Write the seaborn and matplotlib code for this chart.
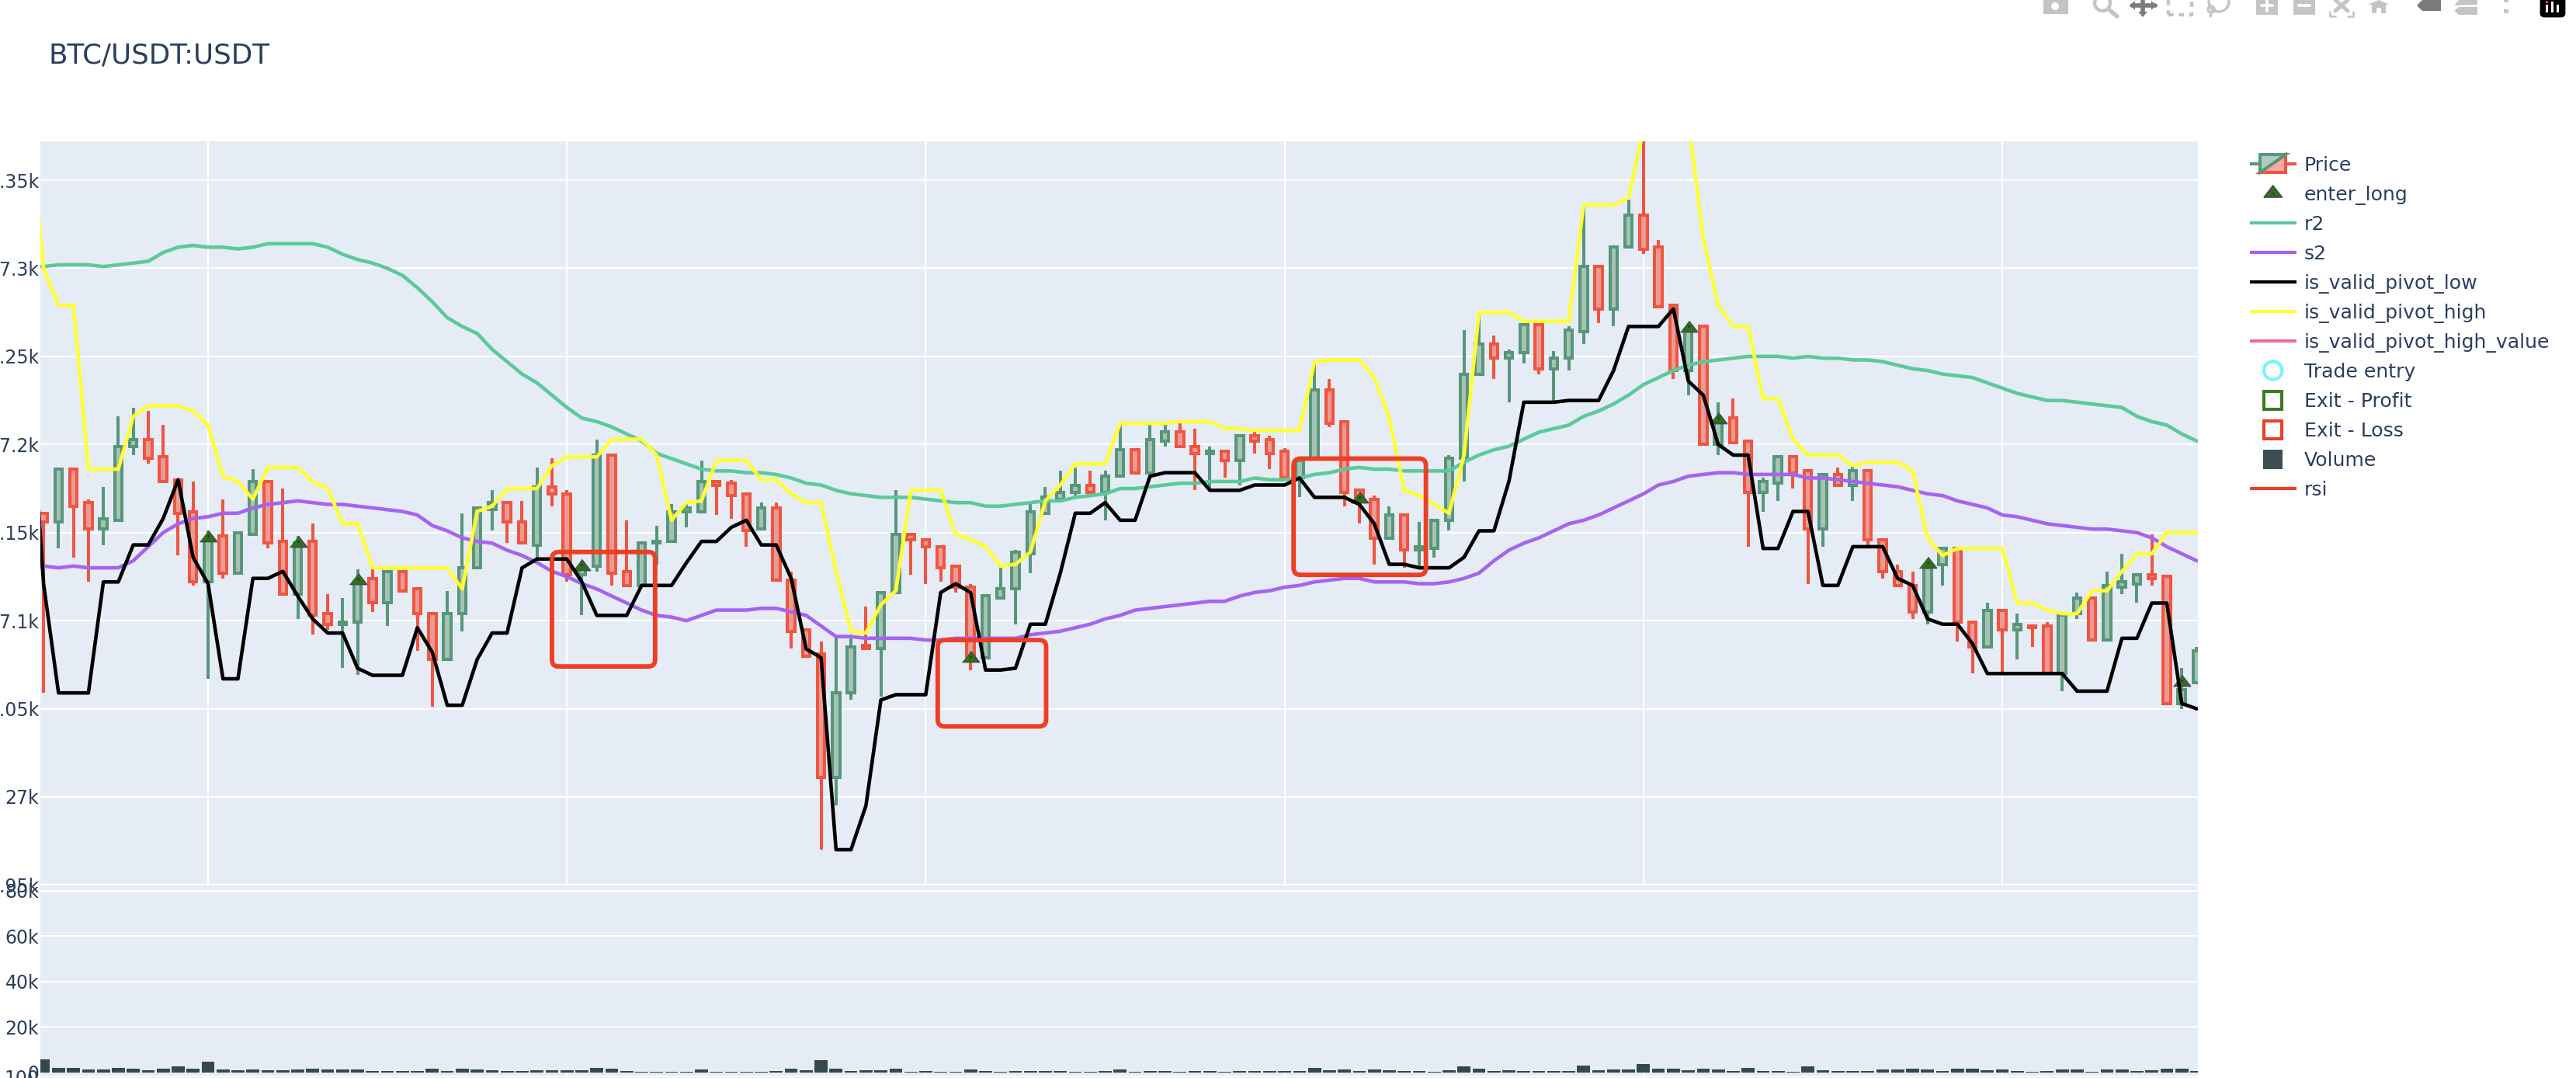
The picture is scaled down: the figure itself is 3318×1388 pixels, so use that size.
import matplotlib
matplotlib.use("Agg")
import matplotlib.pyplot as plt
import numpy as np
import seaborn as sns
from matplotlib.patches import Circle, FancyBboxPatch, Polygon, Rectangle

W, H = 3318, 1388

title = "BTC/USDT:USDT"

# candles, one per 15 minutes
open_ = [27161,27156,27186,27167,27152,27157,27199,27203,27193,27180,
         27162,27122,27148,27127,27149,27179,27145,27115,27145,27104,
         27098,27099,27124,27110,27128,27118,27104,27078,27104,27130,
         27163,27167,27156,27143,27176,27172,27126,27131,27194,27128,
         27120,27144,27145,27162,27162,27179,27178,27172,27152,27164,
         27123,27095,27081,27011,27059,27086,27084,27116,27149,27146,
         27142,27131,27119,27079,27113,27118,27138,27161,27169,27173,
         27177,27173,27182,27197,27184,27202,27207,27199,27195,27196,
         27191,27205,27203,27196,27181,27192,27231,27213,27174,27169,
         27147,27160,27140,27141,27157,27192,27240,27257,27249,27252,
         27268,27243,27249,27264,27301,27277,27312,27330,27312,27279,
         27242,27267,27200,27215,27202,27173,27178,27193,27185,27152,
         27183,27177,27185,27146,27128,27120,27105,27132,27141,27099,
         27085,27106,27095,27097,27097,27070,27104,27113,27089,27119,
         27121,27126,27125,27053,27065]
high = [27161,27186,27186,27169,27176,27216,27221,27219,27211,27180,
        27179,27151,27169,27150,27186,27179,27175,27148,27155,27115,
        27113,27129,27129,27128,27128,27118,27104,27117,27161,27165,
        27174,27167,27168,27187,27192,27174,27134,27203,27194,27157,
        27144,27154,27166,27167,27191,27179,27180,27172,27167,27167,
        27128,27095,27088,27091,27092,27108,27117,27174,27149,27146,
        27142,27131,27121,27114,27132,27140,27166,27176,27185,27187,
        27185,27185,27212,27197,27212,27212,27212,27209,27199,27196,
        27206,27207,27205,27198,27191,27247,27237,27214,27174,27171,
        27165,27160,27156,27158,27194,27265,27274,27262,27254,27269,
        27269,27253,27267,27336,27301,27312,27339,27384,27316,27279,
        27269,27267,27224,27226,27203,27181,27193,27194,27185,27184,
        27187,27189,27185,27147,27132,27128,27134,27142,27142,27099,
        27110,27106,27104,27098,27099,27103,27116,27113,27128,27138,
        27126,27149,27125,27073,27085]
low = [27059,27141,27136,27122,27143,27157,27194,27189,27179,27137,
       27120,27067,27124,27127,27149,27141,27115,27101,27092,27095,
       27073,27069,27105,27097,27117,27083,27051,27078,27094,27130,
       27151,27144,27144,27135,27165,27122,27103,27128,27120,27120,
       27120,27132,27145,27153,27162,27160,27158,27142,27152,27123,
       27084,27079,26970,26995,27055,27084,27057,27116,27126,27121,
       27122,27116,27072,27079,27113,27098,27127,27161,27167,27171,
       27173,27157,27182,27184,27184,27199,27199,27174,27174,27181,
       27177,27195,27186,27181,27170,27192,27210,27165,27155,27132,
       27147,27130,27129,27136,27151,27179,27239,27237,27224,27246,
       27240,27225,27242,27257,27269,27267,27312,27308,27278,27237,
       27228,27200,27194,27200,27142,27162,27168,27175,27121,27142,
       27177,27168,27142,27124,27120,27101,27098,27120,27088,27070,
       27085,27070,27078,27085,27070,27060,27101,27089,27089,27115,
       27110,27120,27053,27050,27065]
close = [27156,27186,27165,27152,27158,27199,27203,27192,27179,27161,
         27122,27146,27127,27150,27179,27144,27115,27144,27103,27098,
         27099,27122,27110,27128,27117,27104,27078,27104,27130,27164,
         27167,27156,27144,27176,27172,27126,27129,27194,27127,27120,
         27144,27145,27162,27164,27179,27177,27171,27151,27164,27123,
         27094,27080,27011,27059,27085,27084,27116,27149,27146,27142,
         27130,27119,27080,27114,27118,27139,27162,27170,27173,27177,
         27173,27182,27197,27184,27203,27207,27199,27195,27196,27191,
         27205,27202,27195,27181,27191,27231,27212,27173,27168,27147,
         27160,27140,27142,27157,27192,27240,27257,27249,27252,27268,
         27243,27249,27265,27301,27277,27312,27330,27311,27278,27242,
         27265,27200,27213,27201,27173,27179,27193,27184,27152,27183,
         27177,27185,27146,27128,27120,27105,27130,27141,27099,27085,
         27106,27095,27098,27096,27070,27103,27113,27089,27120,27122,
         27126,27124,27053,27061,27083]

# indicator lines start one candle left of the visible range
r2 = [27301,27301,27302,27302,27302,27301,27302,27303,27304,27309,27312,
      27313,27312,27312,27311,27312,27314,27314,27314,27314,27312,
      27308,27305,27303,27300,27296,27289,27281,27272,27267,27263,
      27254,27247,27240,27235,27228,27221,27215,27213,27210,27206,
      27202,27195,27192,27189,27186,27185,27185,27184,27184,27183,
      27181,27178,27177,27174,27172,27171,27170,27170,27170,27169,
      27168,27167,27167,27165,27165,27166,27167,27168,27168,27170,
      27171,27172,27175,27175,27176,27177,27178,27178,27179,27179,
      27179,27181,27180,27180,27181,27183,27184,27186,27187,27186,
      27186,27185,27185,27185,27185,27190,27194,27197,27199,27203,
      27207,27209,27211,27216,27219,27223,27228,27234,27238,27242,
      27245,27247,27248,27249,27250,27250,27250,27249,27250,27249,
      27249,27248,27248,27247,27245,27243,27242,27240,27239,27238,
      27235,27232,27229,27227,27225,27225,27224,27223,27222,27221,
      27216,27213,27211,27206,27202]
s2 = [27131,27131,27130,27131,27130,27130,27130,27134,27142,27150,27155,
      27158,27159,27161,27161,27164,27166,27167,27168,27167,27166,
      27166,27165,27164,27163,27162,27160,27154,27151,27147,27145,
      27144,27140,27137,27133,27128,27125,27121,27118,27114,27110,
      27106,27103,27102,27100,27103,27106,27106,27106,27107,27107,
      27105,27103,27097,27091,27091,27090,27090,27090,27090,27089,
      27089,27090,27090,27090,27090,27090,27092,27093,27094,27096,
      27098,27101,27103,27106,27107,27108,27109,27110,27111,27111,
      27114,27116,27117,27119,27120,27122,27123,27124,27124,27122,
      27122,27122,27121,27121,27122,27124,27127,27134,27140,27144,
      27147,27151,27155,27157,27160,27164,27168,27172,27177,27179,
      27182,27183,27184,27184,27183,27183,27183,27183,27181,27181,
      27180,27179,27178,27177,27176,27174,27172,27171,27168,27166,
      27164,27160,27159,27157,27155,27154,27153,27152,27152,27151,
      27150,27147,27142,27138,27134]
pivot_low = [27250,27121,27059,27059,27059,27122,27122,27143,27143,27158,27180,
             27136,27121,27067,27067,27124,27124,27128,27114,27101,27093,
             27093,27073,27069,27069,27069,27096,27082,27052,27052,27078,
             27093,27093,27130,27135,27135,27135,27122,27103,27103,27103,
             27120,27120,27120,27133,27145,27145,27153,27157,27143,27143,
             27124,27084,27079,26970,26970,26995,27055,27058,27058,27058,
             27116,27121,27116,27072,27072,27073,27098,27098,27127,27161,
             27161,27167,27157,27157,27182,27184,27184,27184,27174,27174,
             27174,27177,27177,27177,27181,27170,27170,27170,27166,27155,
             27132,27132,27130,27130,27130,27136,27151,27151,27179,27224,
             27224,27224,27225,27225,27225,27242,27267,27267,27267,27277,
             27236,27228,27200,27194,27194,27141,27141,27162,27162,27120,
             27120,27142,27142,27142,27124,27120,27101,27098,27098,27087,
             27070,27070,27070,27070,27070,27070,27060,27060,27060,27090,
             27090,27110,27110,27053,27050]
pivot_high = [27391,27300,27279,27279,27186,27186,27186,27216,27222,27222,27222,
              27219,27211,27182,27179,27169,27187,27187,27187,27179,27175,
              27155,27155,27130,27130,27130,27130,27130,27130,27118,27162,
              27165,27175,27175,27175,27188,27193,27193,27193,27203,27203,
              27203,27194,27157,27167,27168,27191,27191,27191,27180,27180,
              27172,27167,27167,27128,27094,27093,27109,27117,27174,27174,
              27174,27149,27146,27142,27131,27132,27139,27168,27177,27189,
              27189,27189,27212,27212,27212,27212,27213,27213,27213,27209,
              27209,27208,27208,27208,27208,27247,27248,27248,27248,27238,
              27215,27174,27171,27166,27161,27194,27275,27275,27275,27270,
              27270,27270,27270,27336,27336,27336,27340,27379,27384,27384,
              27384,27317,27279,27267,27267,27226,27226,27203,27194,27194,
              27194,27188,27190,27190,27190,27185,27147,27137,27141,27141,
              27141,27141,27110,27110,27106,27104,27104,27117,27117,27128,
              27138,27138,27150,27150,27150]

# enter_long markers
enter_idx = [11, 17, 21, 36, 62, 88, 110, 112, 126, 143]
enter_val = [27148, 27145, 27124, 27132, 27080, 27170, 27267, 27215, 27133, 27066]

# Exit - Loss boxes: first candle, last candle, upper price, lower price
box_x0 = [34.0, 59.8, 83.6]
box_x1 = [40.9, 67.05, 92.45]
box_top = [27139, 27089, 27192]
box_bot = [27074, 27040, 27126]

volume = [5600,2050,1820,1030,1030,1820,1370,800,1710,2400,1480,4670,1250,800,1140,
          910,910,1030,1710,1140,1140,1140,680,680,570,680,1480,680,1480,1250,
          800,460,460,800,800,800,910,2050,1710,680,340,340,340,340,1030,
          340,340,340,340,460,1480,910,5360,1710,680,800,910,1370,340,680,
          340,340,1140,680,340,570,680,680,680,340,340,460,1250,340,680,
          460,340,680,460,340,570,460,460,460,570,1940,800,1030,680,1030,
          910,680,680,340,800,2620,1480,680,910,680,680,680,460,2850,800,
          1030,1250,3760,1480,1370,800,1600,1030,680,2050,680,680,340,2400,800,
          570,680,680,1250,1030,1370,1030,460,1370,1600,910,1140,680,340,680,
          1030,1030,340,1250,1250,460,910,1370,1370,680]

price_ticks = [26950, 27000, 27050, 27100, 27150, 27200, 27250, 27300, 27350]
volume_ticks = [0, 20000, 40000, 60000, 80000]
time_grid = [11, 35, 59, 83, 107, 131]

legend_labels = ["Price", "enter_long", "r2", "s2", "is_valid_pivot_low",
                 "is_valid_pivot_high", "is_valid_pivot_high_value", "Trade entry",
                 "Exit - Profit", "Exit - Loss", "Volume", "rsi"]

GREEN_EDGE, GREEN_FILL = "#58967a", "#a5c3b5"
RED_EDGE, RED_FILL = "#f0553f", "#eb9b96"
BG = "#E5ECF6"
TXT = "#2a3f5f"
C_R2, C_S2, C_PINK, C_YEL = "#5cc99b", "#a564f0", "#ec6f92", "#ffff33"
C_BOX = "#ee3e24"
TICK_SIZE = 8.5

sns.set_theme(style="darkgrid", rc={
    "axes.facecolor": BG, "grid.color": "white", "grid.linewidth": 0.76,
    "font.family": "DejaVu Sans", "axes.linewidth": 0, "text.color": TXT,
    "xtick.color": TXT, "ytick.color": TXT})

fig = plt.figure(figsize=(W / 200, H / 200), dpi=200, facecolor="white")


def panel(top, bottom):
    return fig.add_axes([52 / W, 1 - bottom / H, (2831 - 52) / W, (bottom - top) / H])


ax = panel(181.5, 1141)
ax_vol = panel(1141, 1381)
ax_rsi = panel(1381, 1388)

idx = np.arange(145)
opens, closes = np.array(open_), np.array(close)
up = closes >= opens

# price panel
ax.vlines(idx, low, high, colors=[GREEN_EDGE if u else RED_EDGE for u in up], linewidth=1.45, zorder=2)
ax.bar(idx, np.abs(closes - opens), bottom=np.minimum(opens, closes), width=0.49,
       color=[GREEN_FILL if u else RED_FILL for u in up],
       edgecolor=[GREEN_EDGE if u else RED_EDGE for u in up], linewidth=1.45, zorder=2.1)

tri = [(-1, -0.64), (1, -0.64), (0, 0.64)]
sns.scatterplot(x=enter_idx, y=enter_val, marker=tri, s=63, color="#2f6f1e", edgecolor="#4a4a4a",
                linewidth=0.6, ax=ax, legend=False, zorder=2.5)
sns.scatterplot(x=enter_idx, y=enter_val, marker="o", s=1.5, color="#1d4a14", linewidth=0,
                ax=ax, legend=False, zorder=2.6)

line_x = np.arange(-1, 145)
for series, col in [(r2, C_R2), (s2, C_S2), (pivot_low, "black"), (pivot_high, C_YEL)]:
    sns.lineplot(x=line_x, y=series, color=col, linewidth=1.65, errorbar=None, sort=False,
                 ax=ax, legend=False, zorder=3, solid_joinstyle="round")

px_aspect = 0.4407 * 19.26
for x0, x1, t, b in zip(box_x0, box_x1, box_top, box_bot):
    ax.add_patch(FancyBboxPatch((x0, b), x1 - x0, t - b, boxstyle="round,pad=0,rounding_size=0.45",
                                mutation_aspect=px_aspect, fill=False, edgecolor=C_BOX,
                                linewidth=2.1, zorder=4))

ax.set_xlim(-0.213, 144.08)
ax.set_ylim(26949.3, 27372.3)
ax.set_yticks(price_ticks)
ax.set_yticklabels([f"{v / 1000:g}k" for v in price_ticks], fontsize=TICK_SIZE)
ax.set_xticks(time_grid)
ax.set_xticklabels([])
ax.set_xlabel("")
ax.set_ylabel("")

# volume panel
sns.barplot(x=idx, y=volume, native_scale=True, color="#34494f", saturation=1, width=0.87,
            errorbar=None, linewidth=0, ax=ax_vol, zorder=2)
ax_vol.set_xlim(-0.213, 144.08)
ax_vol.set_ylim(-170, 81950)
ax_vol.set_yticks(volume_ticks)
ax_vol.set_yticklabels(["0", "20k", "40k", "60k", "80k"], fontsize=TICK_SIZE)
ax_vol.set_xticks([])
ax_vol.set_xlabel("")
ax_vol.set_ylabel("")

# rsi panel, nearly all of it is outside the picture
ax_rsi.set_xlim(-0.213, 144.08)
ax_rsi.set_ylim(98, 105)
ax_rsi.set_yticks([100])
ax_rsi.set_yticklabels(["100"], fontsize=TICK_SIZE)
ax_rsi.set_xticks(time_grid)
ax_rsi.set_xticklabels([])

for a in (ax, ax_vol, ax_rsi):
    a.tick_params(length=0, pad=0.6)
    sns.despine(ax=a, left=True, bottom=True)

# title, legend and toolbar in picture pixels
ov = fig.add_axes([0, 0, 1, 1], zorder=10)
ov.set_xlim(0, W)
ov.set_ylim(H, 0)
ov.axis("off")
ov.text(63, 71, title, fontsize=12.85, color=TXT, va="center")

row_y = [211, 249.3, 287, 325, 363, 401, 439, 477, 515, 553, 591, 629]
for y, label in zip(row_y, legend_labels):
    ov.text(2968, y + 2, label, fontsize=9.05, color=TXT, va="center")

y = row_y[0]
ov.plot([2898, 2910], [y, y], color=GREEN_EDGE, lw=1.45, solid_capstyle="butt")
ov.plot([2945, 2958], [y, y], color=RED_EDGE, lw=1.45, solid_capstyle="butt")
ov.add_patch(Polygon([(2911, 222), (2944, 222), (2944, 199)], fc="#f6aaa3", ec=RED_EDGE, lw=1.45))
ov.add_patch(Polygon([(2911, 222), (2911, 199), (2944, 199)], fc="#afcdbe", ec=GREEN_EDGE, lw=1.45))
ov.add_patch(Polygon([(2916, 254), (2939.5, 254), (2927.7, 239)], fc="#2f6f1e", ec="#4a4a4a", lw=0.6))
ov.add_patch(Circle((2927.7, 249), 1.5, fc="#1d4a14", ec="none"))
for y, col in zip([row_y[2], row_y[3], row_y[4], row_y[5], row_y[6], row_y[11]],
                  [C_R2, C_S2, "black", C_YEL, C_PINK, C_BOX]):
    ov.plot([2898, 2958], [y, y], color=col, lw=1.5, solid_capstyle="butt")
ov.add_patch(Circle((2927.7, row_y[7]), 11.7, fc="white", ec="#74f4ff", lw=1.45))
ov.add_patch(Rectangle((2916, row_y[8] - 11.5), 23, 23, fc="white", ec="#3a7d1e", lw=1.45))
ov.add_patch(Rectangle((2916, row_y[9] - 11.5), 23, 23, fc="white", ec=C_BOX, lw=1.45))
ov.add_patch(Rectangle((2915, row_y[10] - 12.5), 25, 25, fc="#3a4f53", ec="none"))

# plotly toolbar, cut by the top of the picture
ICON, DARK = "#c4c4c4", "#7a7a7a"
ov.add_patch(Rectangle((2632, 0), 32, 18, fc=ICON, ec="none"))
ov.add_patch(Circle((2647, 8), 5, fc="white", ec="none"))
ov.add_patch(Circle((2708, 4), 10, fc="white", ec=ICON, lw=1.6))
ov.plot([2716, 2727], [12, 21], color=ICON, lw=2)
ov.plot([2746, 2776], [7, 7], color=DARK, lw=2)
ov.plot([2760, 2760], [0, 16], color=DARK, lw=2)
ov.add_patch(Polygon([(2754, 15), (2766, 15), (2760, 22)], fc=DARK, ec="none"))
ov.add_patch(Polygon([(2744, 7), (2750, 1), (2750, 13)], fc=DARK, ec="none"))
ov.add_patch(Polygon([(2777, 7), (2771, 1), (2771, 13)], fc=DARK, ec="none"))
ov.plot([2793, 2823, 2823], [19, 19, 0], color=ICON, lw=1.6, ls=(0, (1.5, 1.5)))
ov.plot([2793, 2793], [0, 19], color=ICON, lw=1.6, ls=(0, (1.5, 1.5)))
ov.add_patch(Circle((2858, 2), 13, fc="none", ec=ICON, lw=1.2))
ov.add_patch(Circle((2848, 12), 4, fc="none", ec=ICON, lw=1.2))
ov.plot([2849, 2847], [15, 21], color=ICON, lw=1.2)
for x0 in (2906, 2954):
    ov.add_patch(Rectangle((x0, 0), 28, 19, fc=ICON, ec="none"))
    ov.plot([x0 + 7, x0 + 21], [7, 7], color="white", lw=1.4)
ov.plot([2920, 2920], [1, 14], color="white", lw=1.4)
ov.plot([3001, 3001, 3008], [15, 21, 21], color=ICON, lw=0.9)
ov.plot([3031, 3031, 3024], [15, 21, 21], color=ICON, lw=0.9)
ov.plot([3008, 3024], [0, 14], color=ICON, lw=1.8)
ov.plot([3024, 3008], [0, 14], color=ICON, lw=1.8)
ov.add_patch(Polygon([(3050, 6), (3064, 0), (3078, 6), (3073, 6), (3073, 17), (3067, 17), (3067, 10),
                      (3061, 10), (3061, 17), (3055, 17), (3055, 6)], fc=ICON, ec="none"))
ov.add_patch(Polygon([(3113, 7), (3120, 0), (3144, 0), (3144, 14), (3120, 14)], fc=DARK, ec="none"))
ov.add_patch(Polygon([(3161, 7), (3167, 0), (3191, 0), (3191, 6), (3161, 7)], fc=ICON, ec="none"))
ov.add_patch(Polygon([(3161, 14), (3167, 9), (3191, 9), (3191, 19), (3167, 19)], fc=ICON, ec="none"))
ov.add_patch(Rectangle((3225, 0), 6, 3, fc=ICON, ec="none"))
ov.add_patch(Rectangle((3225, 12), 6, 5, fc=ICON, ec="none"))
ov.add_patch(FancyBboxPatch((3274, -4), 28, 24, boxstyle="round,pad=1,rounding_size=4", fc="black", ec="black"))
for x0, h0 in [(3279, 6), (3286, 2), (3293, 6)]:
    ov.add_patch(Rectangle((x0, h0), 3, 16 - h0, fc="white", ec="none"))
ov.add_patch(Rectangle((3279, 1), 3, 3, fc="#e0336b", ec="none"))

fig.savefig("out.png", dpi=200)
